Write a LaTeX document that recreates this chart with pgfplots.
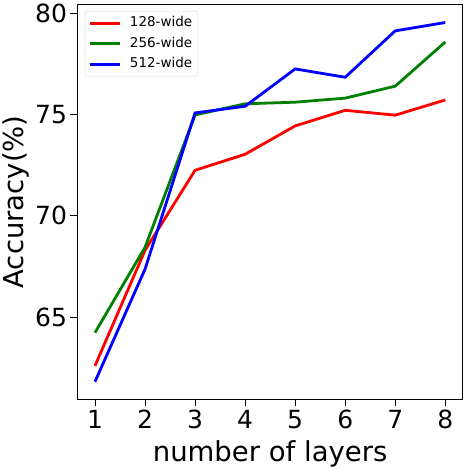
\documentclass[border=0pt]{standalone}
\usepackage{fontspec}
\setmainfont{DejaVu Sans}
\usepackage{pgfplots}
\pgfplotsset{compat=1.18}

\definecolor{mplred}{rgb}{1,0,0}
\definecolor{mplgreen}{rgb}{0,0.5,0}
\definecolor{mplblue}{rgb}{0,0,1}

\begin{document}
\begin{tikzpicture}
\begin{axis}[name=ax,
    scale only axis, width=385.5pt, height=395pt,
    xmin=0.65, xmax=8.35, ymin=60.95, ymax=80.43,
    xtick={1,...,8}, ytick={65,70,75,80},
    xtick pos=left, ytick pos=left,
    tick align=outside, major tick length=7pt,
    tick style={black, line width=0.8pt},
    axis line style={line width=0.8pt},
    /pgf/number format/assume math mode=true,
    tick label style={font=\fontsize{25}{30}\selectfont},
    xlabel={number of layers}, ylabel={Accuracy(\%)},
    xlabel style={font=\fontsize{27.5}{32}\selectfont, at={(rel axis cs:0.5,0)}, anchor=base, yshift=-62.4pt},
    ylabel style={font=\fontsize{27.5}{32}\selectfont, at={([xshift=-62pt]rel axis cs:0,0.5)}, anchor=center},
    legend cell align=left,
    legend image code/.code={\draw[#1] (0pt,0pt) -- (30pt,0pt);},
    legend style={at={([xshift=7.5pt,yshift=-6.5pt]rel axis cs:0,1)}, anchor=north west,
        font=\fontsize{13.5}{16}\selectfont, draw=black!15, rounded corners=2pt,
        inner xsep=3pt, inner ysep=3.5pt, row sep=3.5pt,
        nodes={text height=10pt, text depth=3pt, inner sep=2pt},
        /tikz/every odd column/.append style={column sep=7pt}},
]
\addplot[mplred, line width=2.8pt] coordinates {(1,62.60) (2,68.30) (3,72.25) (4,73.04) (5,74.44) (6,75.21) (7,74.97) (8,75.72)};
\addlegendentry{128-wide}
\addplot[mplgreen, line width=2.8pt] coordinates {(1,64.24) (2,68.45) (3,74.98) (4,75.53) (5,75.61) (6,75.81) (7,76.40) (8,78.58)};
\addlegendentry{256-wide}
\addplot[mplblue, line width=2.8pt] coordinates {(1,61.82) (2,67.37) (3,75.08) (4,75.41) (5,77.25) (6,76.84) (7,79.13) (8,79.54)};
\addlegendentry{512-wide}
\end{axis}
\pgfresetboundingbox
\path[use as bounding box] ([xshift=-77.5pt,yshift=-69.7pt]ax.south west) rectangle ([xshift=5pt,yshift=4.5pt]ax.north east);
\end{tikzpicture}
\end{document}
